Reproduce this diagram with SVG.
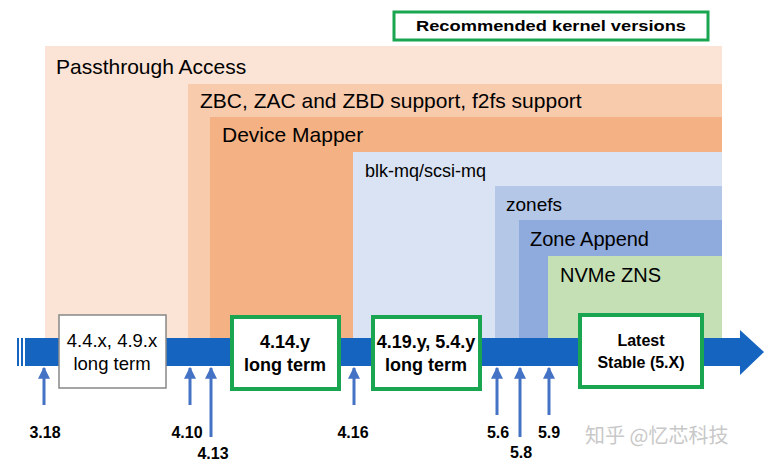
<svg xmlns="http://www.w3.org/2000/svg" width="766" height="467" viewBox="0 0 766 467">
<style>
.band text{font-family:"Liberation Sans",Arial,sans-serif;font-size:21px;fill:#000}
.bl{font-family:"Liberation Sans",Arial,sans-serif;font-size:18.5px;fill:#000;text-anchor:middle}
.g{fill:#fff;stroke:#1aa550;stroke-width:4}
.t{font-family:"Liberation Sans",Arial,sans-serif;font-weight:bold;text-anchor:middle;fill:#000}
.tk{stroke:#4472c4;stroke-width:3;marker-end:url(#ah)}
.lb{font-family:"Liberation Sans",Arial,sans-serif;font-weight:bold;font-size:16px;text-anchor:middle;fill:#000}
</style>
<defs><marker id="ah" viewBox="0 0 10 10" refX="9" refY="5" markerWidth="4" markerHeight="4" orient="auto"><path d="M0,0L10,5L0,10z" fill="#4472c4"/></marker></defs>
<rect width="766" height="467" fill="#fff"/>
<g id="bands" class="band">
<g id="passthrough"><rect x="45" y="46" width="677" height="294" fill="#fbe3d5"/><text x="56" y="74">Passthrough Access</text></g>
<g id="zbc"><rect x="188" y="84" width="534" height="256" fill="#f8cbad"/><text x="200" y="108">ZBC, ZAC and ZBD support, f2fs support</text></g>
<g id="dm"><rect x="210" y="117" width="512" height="223" fill="#f4b183"/><text x="222" y="142">Device Mapper</text></g>
<g id="blk"><rect x="353" y="152" width="369" height="188" fill="#dae3f3"/><text x="365" y="177" style="font-size:18px">blk-mq/scsi-mq</text></g>
<g id="zonefs"><rect x="495" y="186" width="227" height="154" fill="#b4c7e7"/><text x="506" y="211" style="font-size:19px">zonefs</text></g>
<g id="za"><rect x="519" y="220" width="203" height="120" fill="#8faadc"/><text x="530" y="246" style="font-size:20px">Zone Append</text></g>
<g id="nvme"><rect x="548" y="256" width="174" height="84" fill="#c5e0b4"/><text x="560" y="282" style="font-size:20px">NVMe ZNS</text></g>
</g>
<g id="rec"><rect x="394" y="12" width="314" height="28" fill="#fff" stroke="#1aa550" stroke-width="3"/><text class="t" x="551" y="31" font-size="15" textLength="270" lengthAdjust="spacingAndGlyphs">Recommended kernel versions</text></g>
<g id="timeline">
<rect x="25" y="338" width="717" height="28" fill="#1565c0"/>
<rect x="17" y="338" width="2" height="28" fill="#1565c0"/><rect x="21" y="338" width="2" height="28" fill="#1565c0"/>
<path d="M740,330L764,352L740,375z" fill="#1565c0"/>
</g>
<g id="b1"><rect x="59" y="315" width="107" height="73" fill="#fff" stroke="#888" stroke-width="1.5"/><text class="bl" x="112" y="347">4.4.x, 4.9.x</text><text class="bl" x="112" y="370">long term</text></g>
<g id="b2"><rect class="g" x="232" y="317" width="107" height="72"/><text class="t" x="285" y="348" font-size="18">4.14.y</text><text class="t" x="285" y="371" font-size="18">long term</text></g>
<g id="b3"><rect class="g" x="373" y="317" width="107" height="72"/><text class="t" x="426" y="348" font-size="18">4.19.y, 5.4.y</text><text class="t" x="426" y="371" font-size="18">long term</text></g>
<g id="b4"><rect class="g" x="580" y="315" width="122" height="72"/><text class="t" x="641" y="346" font-size="16">Latest</text><text class="t" x="641" y="368" font-size="16">Stable (5.X)</text></g>
<g id="connectors">
<line class="tk" x1="44" y1="405" x2="44" y2="368"/>
<line class="tk" x1="190" y1="405" x2="190" y2="368"/>
<line class="tk" x1="211" y1="437" x2="211" y2="368"/>
<line class="tk" x1="354" y1="405" x2="354" y2="368"/>
<line class="tk" x1="497" y1="415" x2="497" y2="368"/>
<line class="tk" x1="520" y1="437" x2="520" y2="368"/>
<line class="tk" x1="549" y1="415" x2="549" y2="368"/>
</g>
<g id="labels">
<text class="lb" x="45" y="438">3.18</text>
<text class="lb" x="187" y="438">4.10</text>
<text class="lb" x="213" y="459">4.13</text>
<text class="lb" x="353" y="438">4.16</text>
<text class="lb" x="498" y="438">5.6</text>
<text class="lb" x="521" y="458">5.8</text>
<text class="lb" x="549" y="438">5.9</text>
</g>
<text x="585" y="443" font-family="'Noto Sans CJK SC',sans-serif" font-size="20" fill="#c8c8c8">知乎 @忆芯科技</text>
</svg>
